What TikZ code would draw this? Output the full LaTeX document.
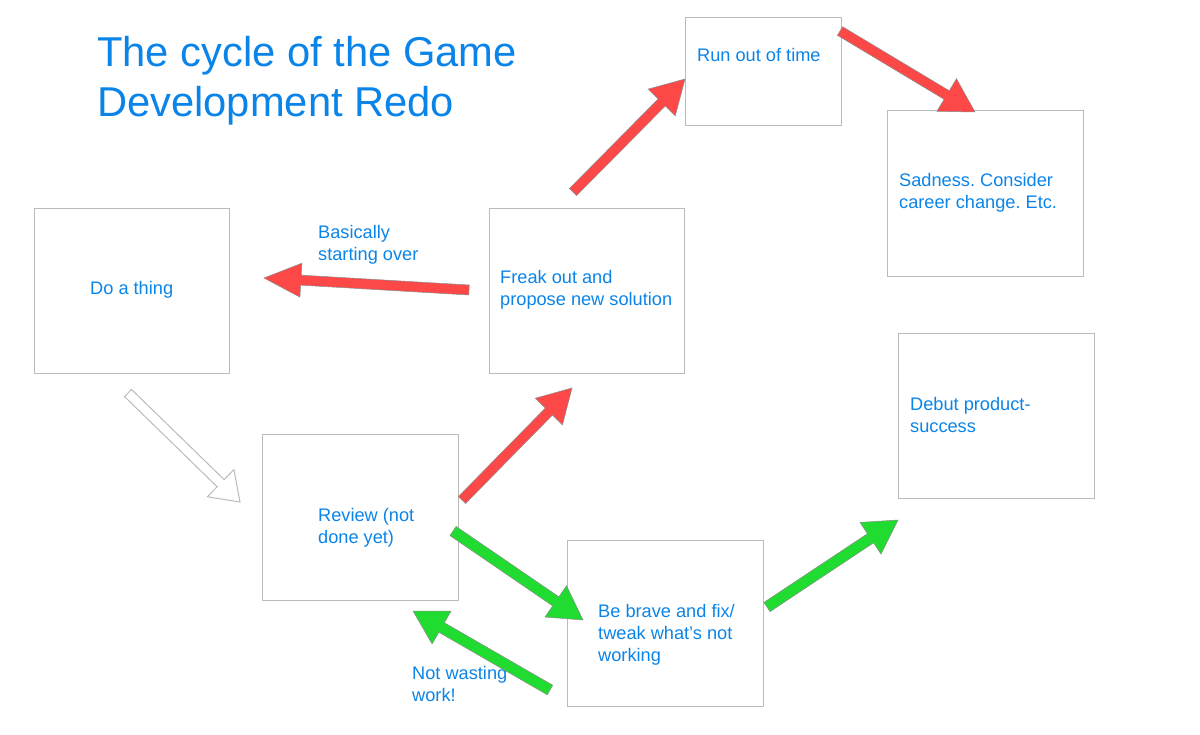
\documentclass[tikz,border=0pt]{standalone}
\usepackage{fontspec}
\setmainfont{Liberation Sans}
\usetikzlibrary{calc}
\frenchspacing
\definecolor{txt}{HTML}{0A84E8}
\definecolor{boxgray}{HTML}{BBBBBB}
\definecolor{redarr}{HTML}{FD4848}
\definecolor{greenarr}{HTML}{20DC30}
\definecolor{edgegray}{HTML}{8C8C8C}
\newcommand\blockarr[6]{%
  \coordinate (hb) at ($(#2)!#6pt!(#1)$);
  \draw[#3] ($(#1)!#4pt!90:(#2)$) -- ($(hb)!#4pt!90:(#2)$) -- ($(hb)!#5pt!90:(#2)$) -- (#2)
    -- ($(hb)!#5pt!-90:(#2)$) -- ($(hb)!#4pt!-90:(#2)$) -- ($(#1)!#4pt!-90:(#2)$) -- cycle;}
\begin{document}
\begin{tikzpicture}[x=1pt,y=-1pt,
  box/.style={draw=boxgray, line width=1pt, anchor=north west, inner sep=0pt},
  lbl/.style={text=txt, font=\fontsize{18.2}{22}\selectfont, align=left, anchor=west, inner sep=0pt},
  redstyle/.style={fill=redarr, draw=edgegray, line width=0.5pt, line join=miter},
  greenstyle/.style={fill=greenarr, draw=edgegray, line width=0.5pt, line join=miter},
  hollow/.style={fill=white, draw=boxgray, line width=1pt, line join=miter}]
\useasboundingbox (0,0) rectangle (1200,735);

% title
\node[text=txt, font=\fontsize{41.7}{50}\selectfont, align=left, anchor=west, inner sep=0pt] (title) at (97,81) {The cycle of the Game\\Development Redo};

% boxes
\node[box, minimum width=195, minimum height=165] (doa) at (34,208) {};
\node[box, minimum width=156, minimum height=108] (run) at (685,17) {};
\node[box, minimum width=196, minimum height=166] (sad) at (887,110) {};
\node[box, minimum width=195, minimum height=165] (freak) at (489,208) {};
\node[box, minimum width=196, minimum height=165] (debut) at (898,333) {};
\node[box, minimum width=196, minimum height=166] (review) at (262,434) {};
\node[box, minimum width=196, minimum height=166] (brave) at (567,540) {};

% labels
\node[lbl] (tdoa) at (90,290) {Do a thing};
\node[lbl] (trun) at (697,55) {Run out of time};
\node[lbl] (tsad) at (899,192.5) {Sadness. Consider\\career change. Etc.};
\node[lbl] (tbas) at (318,244.5) {Basically\\starting over};
\node[lbl] (tfreak) at (500,289.5) {Freak out and\\propose new solution};
\node[lbl] (tdebut) at (910,415) {Debut product-\\success};
\node[lbl] (treview) at (318,528) {Review (not\\done yet)};
\node[lbl] (tbrave) at (598,635) {Be brave and fix/\\tweak what’s not\\working};
\node[lbl] (tnot) at (412,684) {Not wasting\\work!};

% arrow endpoints
\coordinate (r1s) at (573,192); \coordinate (r1e) at (685,79);
\coordinate (r2s) at (840,31); \coordinate (r2e) at (975,112);
\coordinate (r3s) at (469,290); \coordinate (r3e) at (264,278);
\coordinate (r4s) at (462,500); \coordinate (r4e) at (572,388);
\coordinate (g1s) at (453,531); \coordinate (g1e) at (583,620);
\coordinate (g2s) at (767,607); \coordinate (g2e) at (898,520);
\coordinate (g3s) at (550,690); \coordinate (g3e) at (413,611);
\coordinate (hs) at (128,393); \coordinate (he) at (240,502);

\blockarr{r1s}{r1e}{redstyle}{5}{19}{33}
\blockarr{r2s}{r2e}{redstyle}{5}{19}{33}
\blockarr{r3s}{r3e}{redstyle}{5}{17}{37}
\blockarr{r4s}{r4e}{redstyle}{5}{19}{33}
\blockarr{g1s}{g1e}{greenstyle}{5.5}{19}{33}
\blockarr{g2s}{g2e}{greenstyle}{5.5}{19}{33}
\blockarr{g3s}{g3e}{greenstyle}{5.5}{19}{33}
\blockarr{hs}{he}{hollow}{5}{19}{27}
\end{tikzpicture}
\end{document}
